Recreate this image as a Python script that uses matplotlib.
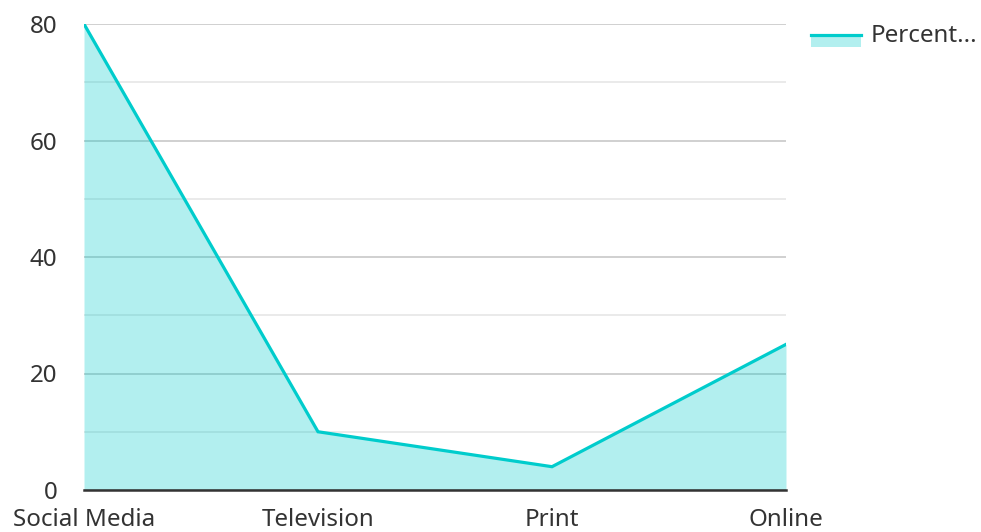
import matplotlib
matplotlib.use("Agg")
import matplotlib.pyplot as plt
from matplotlib.lines import Line2D
from matplotlib.patches import Rectangle

plt.rcParams["font.family"] = ["Noto Sans", "DejaVu Sans"]

categories = ["Social Media", "Television", "Print", "Online"]
percent = [80, 10, 4, 25]
series_name = "Percent..."

LINE = "#00CCCC"
FS = 17.4

fig = plt.figure(figsize=(9.81, 5.32), dpi=100)
ax = fig.add_axes([84 / 981, 42 / 532, 702 / 981, 466 / 532])

x = list(range(len(categories)))
ax.fill_between(x, percent, 0, color=LINE, alpha=0.3, linewidth=0, zorder=2)
ax.plot(x, percent, color=LINE, linewidth=2.3, zorder=3, solid_joinstyle="miter")

ax.set_xlim(0, len(categories) - 1)
ax.set_ylim(0, 80)
ax.set_yticks([0, 20, 40, 60, 80])
ax.set_yticks([10, 30, 50, 70], minor=True)
ax.set_xticks(x)
ax.set_xticklabels(categories)

ax.grid(axis="y", which="major", color="#c8c8c8", linewidth=1.2, zorder=1)
ax.grid(axis="y", which="minor", color="#e6e6e6", linewidth=1.2, zorder=1)
ax.set_axisbelow(True)

for s in ("top", "right", "left"):
    ax.spines[s].set_visible(False)
ax.spines["bottom"].set_color("#333333")
ax.spines["bottom"].set_linewidth(1.8)
ax.spines["bottom"].set_zorder(4)

ax.tick_params(axis="both", which="both", length=0, labelsize=FS, labelcolor="#333333")
ax.tick_params(axis="y", pad=19)
ax.tick_params(axis="x", pad=13)

# legend drawn in figure pixels
W, H = 981, 532
fig.patches.append(Rectangle((811 / W, 1 - 47 / H), 50 / W, 12 / H,
                             transform=fig.transFigure, facecolor=LINE,
                             alpha=0.3, linewidth=0))
fig.lines.append(Line2D([811 / W, 861 / W], [1 - 35 / H, 1 - 35 / H],
                        transform=fig.transFigure, color=LINE, linewidth=2.3))
fig.text(871 / W, 1 - 36 / H, series_name, fontsize=FS, color="#333333",
         va="center", ha="left")

fig.savefig("out.png", dpi=100)
